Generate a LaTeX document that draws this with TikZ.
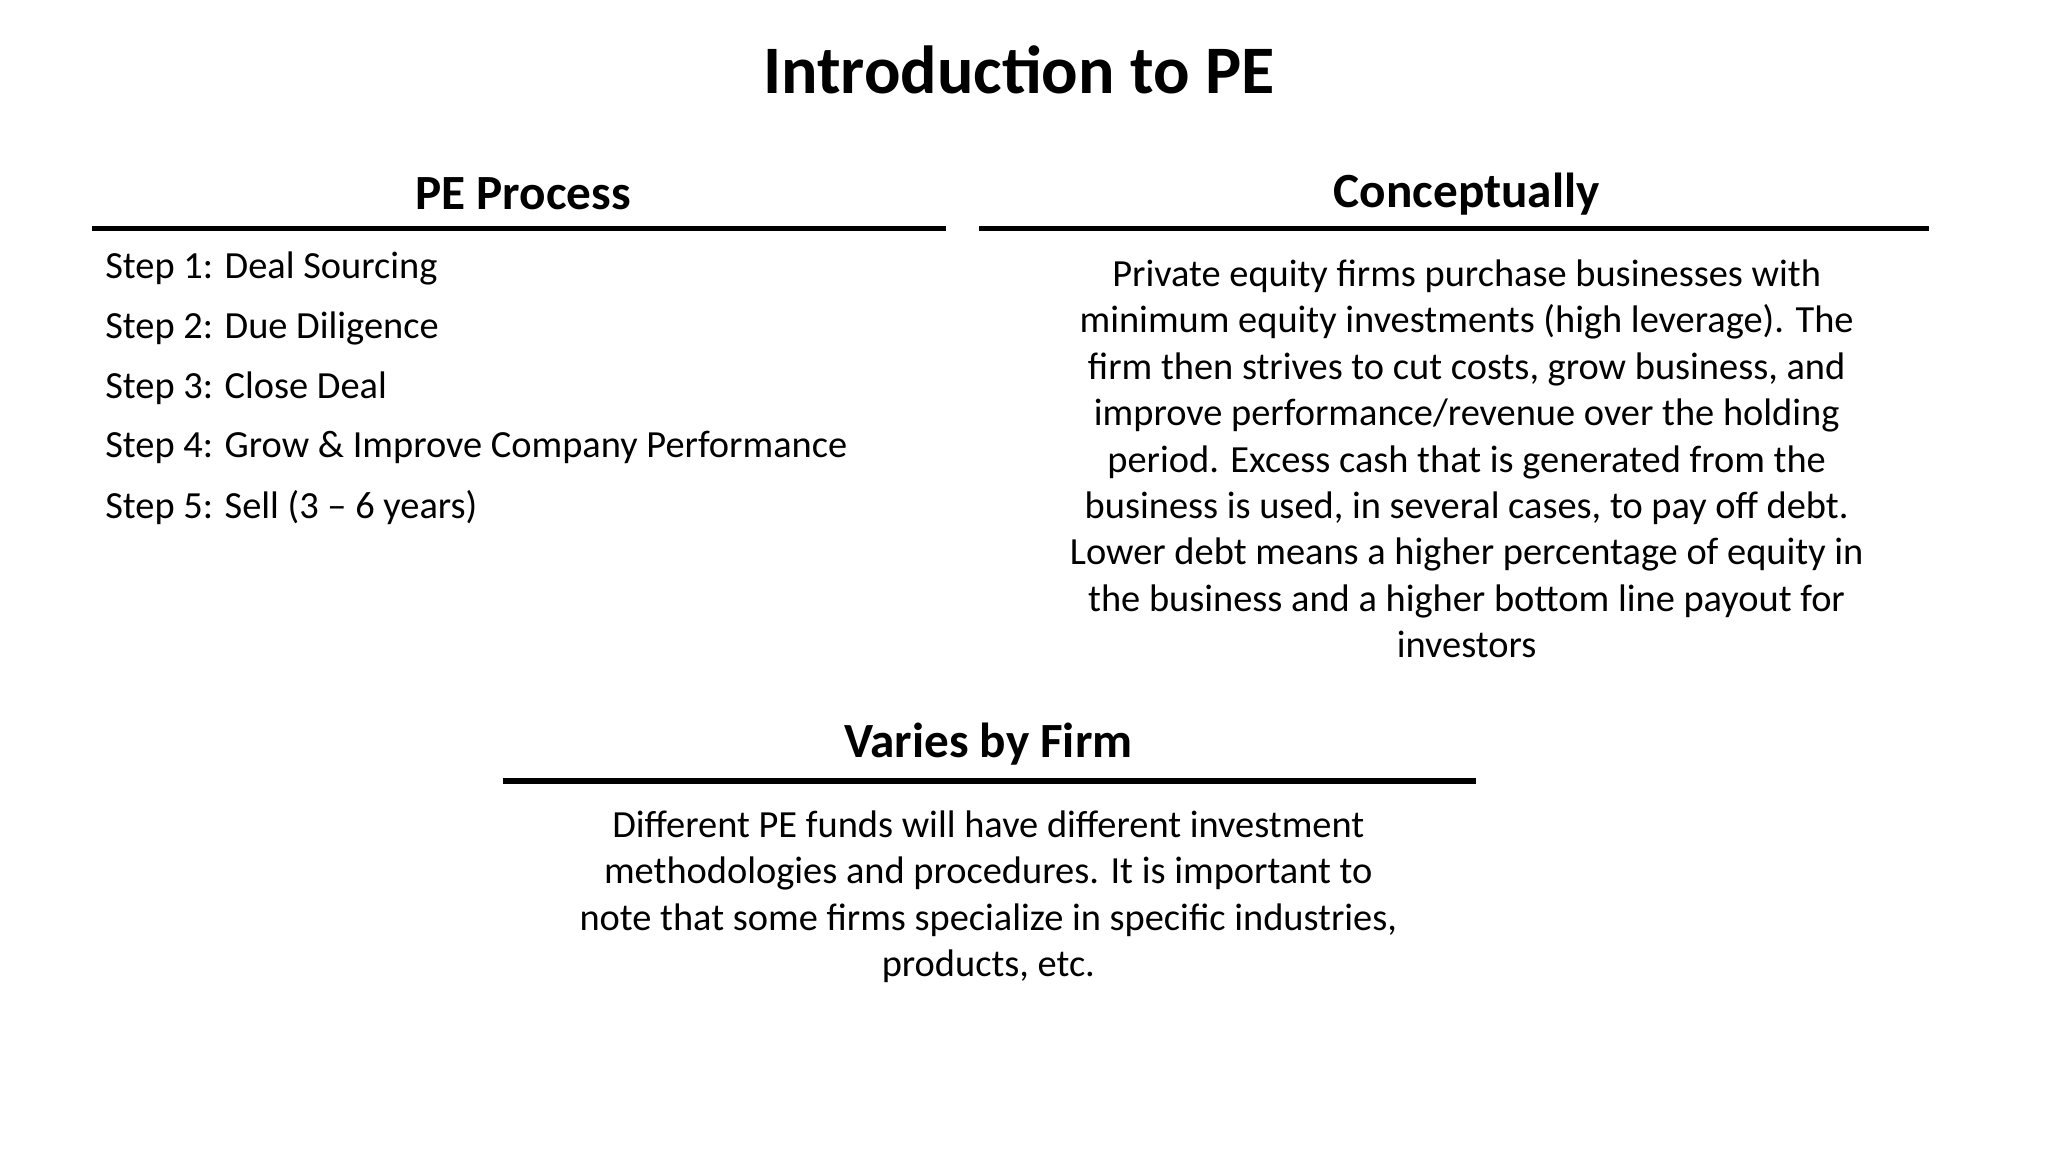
\documentclass[tikz,border=0pt]{standalone}
\usepackage{fontspec}
\setmainfont{Carlito}
\begin{document}
\begin{tikzpicture}[x=0.3303pt,y=-0.3303pt,
  hdr/.style={font=\fontsize{12.3}{14}\selectfont\bfseries},
  body/.style={font=\fontsize{9.6}{11.6}\selectfont, align=center},
  rule/.style={line width=1.4pt}]
\useasboundingbox (0,0) rectangle (1550,872);
\node[font=\fontsize{17}{20}\selectfont\bfseries] (title) at (771,53) {Introduction to PE};
\node[hdr] (h1) at (396,147) {PE Process};
\coordinate (l1a) at (70,173); \coordinate (l1b) at (716,173);
\draw[rule] (l1a) -- (l1b);
\node[hdr] (h2) at (1110,147) {Conceptually};
\coordinate (l2a) at (741,173); \coordinate (l2b) at (1460,173);
\draw[rule] (l2a) -- (l2b);
\foreach \t [count=\i] in {Step 1: Deal Sourcing, Step 2: Due Diligence, Step 3: Close Deal, Step 4: Grow \& Improve Company Performance, Step 5: Sell (3 – 6 years)}
  \node[body, anchor=west] (s\i) at (69, {203+45.3*(\i-1)}) {\t};
\node[body, anchor=north] (c) at (1110,186) {Private equity firms purchase businesses with\\
minimum equity investments (high leverage). The\\
firm then strives to cut costs, grow business, and\\
improve performance/revenue over the holding\\
period. Excess cash that is generated from the\\
business is used, in several cases, to pay off debt.\\
Lower debt means a higher percentage of equity in\\
the business and a higher bottom line payout for\\
investors};
\node[hdr] (h3) at (748,563) {Varies by Firm};
\coordinate (l3a) at (381,591); \coordinate (l3b) at (1117,591);
\draw[rule] (l3a) -- (l3b);
\node[body, anchor=north] (v) at (748,603) {Different PE funds will have different investment\\
methodologies and procedures. It is important to\\
note that some firms specialize in specific industries,\\
products, etc.};
\end{tikzpicture}
\end{document}
